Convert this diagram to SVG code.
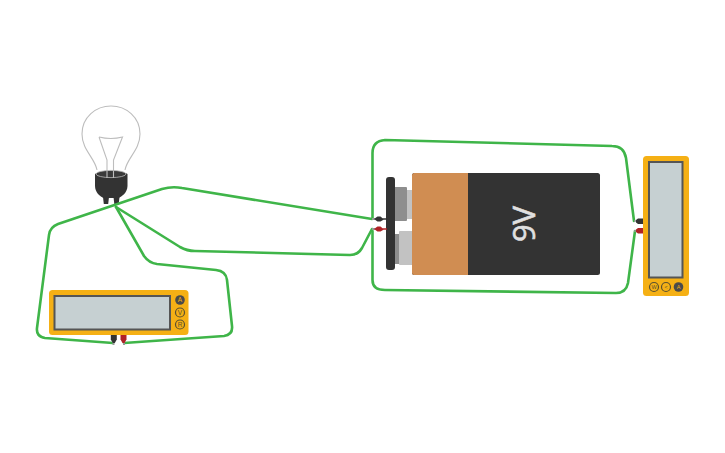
<svg xmlns="http://www.w3.org/2000/svg" width="725" height="453" viewBox="0 0 725 453">
<style>
.w{fill:none;stroke:#3fb549;stroke-width:2.600;stroke-linejoin:round;stroke-linecap:round}
.y{fill:#f5b015}
.s{fill:#c6d0d2;stroke:#555;stroke-width:2}
.d{fill:#333}
.r{fill:#b02226}
.g{fill:#999}
.bulb{fill:none;stroke:#bdbdbd;stroke-width:1.100}
.c{fill:none;stroke:#5a5030;stroke-width:1.200}
.t{font-family:"Liberation Sans",sans-serif;fill:#5a5030;text-anchor:middle}
</style>
<rect width="725" height="453" fill="#fff"/>
<g id="bulb">
<path class="bulb" d="M97 170C95 158 82 150 82 134C82 117 96 106 111 106C126 106 140 117 140 134C140 150 127 158 125 170"/>
<path class="bulb" d="M99 137Q111 140 122.500 137L113.500 160L113.500 178M99 137L107 160L107 178"/>
<path class="d" d="M95 174C101 170 121 170 127.500 174V186C127.500 192 122 197 118 198H104C100 197 95 192 95 186Z"/>
<ellipse cx="111" cy="174" rx="15" ry="3.600" fill="#3a3a3a" stroke="#bbb" stroke-width=".8"/>
<path class="bulb" d="M107 171V178M113.500 171V178"/>
<path class="d" d="M103 197h6l-.8 7h-4.400ZM113.500 197h6l-.8 7h-4.400Z"/>
</g>
<g id="battery">
<rect x="404" y="190" width="10" height="29" fill="#c2c2c2"/>
<rect x="394" y="187" width="13" height="34" rx="1" fill="#8e8e8e"/>
<rect x="393" y="234" width="9" height="30" rx="1" fill="#8e8e8e"/>
<rect x="399" y="231" width="14" height="34" rx="1" fill="#c2c2c2"/>
<rect x="412" y="173" width="188" height="102" rx="2.500" fill="#333"/>
<path d="M414.500 173H468V275H414.500A2.500 2.500 0 0 1 412 272.500V175.500A2.500 2.500 0 0 1 414.500 173Z" fill="#d08d52"/>
<rect class="d" x="386" y="177" width="9" height="93" rx="3"/>
<text transform="translate(523 224) rotate(-90)" font-family="'Open Sans','Liberation Sans',sans-serif" font-size="31" fill="#e0e0e0" stroke="#e0e0e0" stroke-width=".6" text-anchor="middle" dominant-baseline="central">9V</text>
</g>
<g id="meter-a">
<rect class="y" x="49" y="290" width="139.500" height="45" rx="3.500"/>
<rect class="s" x="54.500" y="296" width="115.500" height="33.500"/>
<circle cx="180" cy="300" r="4.800" fill="#4a4a4a"/>
<circle class="c" cx="180" cy="312.500" r="4.500"/>
<circle class="c" cx="180" cy="324.500" r="4.500"/>
<text class="t" x="180" y="302.300" font-size="6.500" style="fill:#f5b015">A</text>
<text class="t" x="180" y="314.800" font-size="6.500">V</text>
<text class="t" x="180" y="326.800" font-size="6.500">R</text>
</g>
<g id="meter-b">
<rect class="y" x="643" y="156" width="46" height="140" rx="3.500"/>
<rect class="s" x="649" y="162" width="33.500" height="115.500"/>
<circle class="c" cx="654" cy="287" r="4.500"/>
<circle class="c" cx="666" cy="287" r="4.500"/>
<circle cx="678.500" cy="287" r="4.800" fill="#4a4a4a"/>
<text class="t" x="654" y="289" font-size="5.500">W</text>
<text class="t" x="666" y="289" font-size="5.500">&lt;</text>
<text class="t" x="678.500" y="289" font-size="5.500" style="fill:#f5b015">A</text>
</g>
<g id="wires">
<path class="w" d="M113 343L45 338Q36 337 37 328L49 235Q50 227 58 224L162 189Q172 186 182 188L372 219"/>
<path class="w" d="M116 207L144 256Q149 263 157 264L216 270Q226 271 227 280L232 326Q233 335 224 336L124 343"/>
<path class="w" d="M116 207L180 247Q187 251 195 251L350 255Q358 255 362 248L372 229"/>
<path class="w" d="M372.500 218V153Q372.500 141 385 140L612 146Q624 146 626 158L634 221"/>
<path class="w" d="M372.500 231V280Q372.500 290 385 290L616 293Q626 293 628 283L635 231"/>
</g>
<g id="pins">
<path class="g" d="M372 218h3v2h-3ZM372 228h3v2h-3ZM634 220.200h4v1.600h-4ZM634 230.200h4v1.600h-4ZM112.500 342h2v3h-2ZM123 342h2v3h-2Z"/>
<path class="d" d="M374 219l3.500-2.600h3l2 1.800H387v1.600h-3.500l-3 1.800h-3Z"/>
<path class="r" d="M374 229l3.500-2.600h3l2 1.800H387v1.600h-3.500l-3 1.800h-3Z"/>
<path class="d" d="M643 218.500v5.500h-5l-2-1.500v-2.500l2-1.500Z"/>
<path class="r" d="M643 228v5.500h-5l-2-1.500v-2.500l2-1.500Z"/>
<path class="d" d="M110.800 335h6v4.500l-2 3.500h-2l-2-3.500Z"/>
<path class="r" d="M120.500 335h6v4.500l-2 3.500h-2l-2-3.500Z"/>
</g>
</svg>
